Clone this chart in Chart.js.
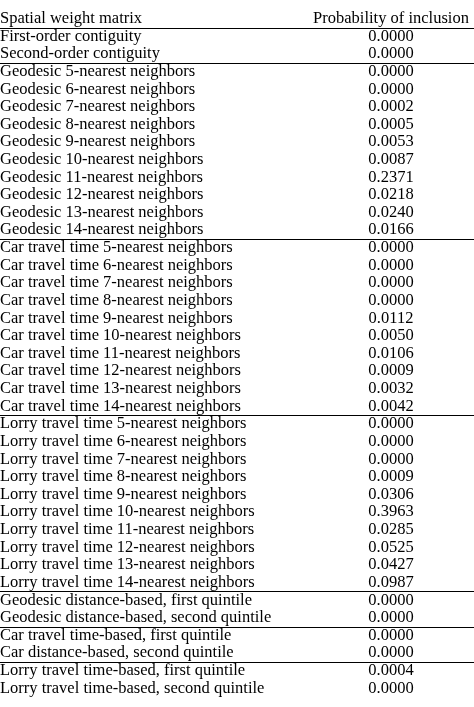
<!DOCTYPE html>
<html><head><meta charset="utf-8">
<script src="https://cdn.jsdelivr.net/npm/chart.js@4/dist/chart.umd.min.js"></script>
<style>html,body{margin:0;padding:0;background:#fff}#w{width:474px;height:707px}</style>
</head><body><div id="w"><canvas id="c"></canvas></div>
<script>
const headerLeft = "Spatial weight matrix";
const headerRight = "Probability of inclusion";
const matrices = [
"First-order contiguity","Second-order contiguity",
"Geodesic 5-nearest neighbors","Geodesic 6-nearest neighbors","Geodesic 7-nearest neighbors","Geodesic 8-nearest neighbors","Geodesic 9-nearest neighbors","Geodesic 10-nearest neighbors","Geodesic 11-nearest neighbors","Geodesic 12-nearest neighbors","Geodesic 13-nearest neighbors","Geodesic 14-nearest neighbors",
"Car travel time 5-nearest neighbors","Car travel time 6-nearest neighbors","Car travel time 7-nearest neighbors","Car travel time 8-nearest neighbors","Car travel time 9-nearest neighbors","Car travel time 10-nearest neighbors","Car travel time 11-nearest neighbors","Car travel time 12-nearest neighbors","Car travel time 13-nearest neighbors","Car travel time 14-nearest neighbors",
"Lorry travel time 5-nearest neighbors","Lorry travel time 6-nearest neighbors","Lorry travel time 7-nearest neighbors","Lorry travel time 8-nearest neighbors","Lorry travel time 9-nearest neighbors","Lorry travel time 10-nearest neighbors","Lorry travel time 11-nearest neighbors","Lorry travel time 12-nearest neighbors","Lorry travel time 13-nearest neighbors","Lorry travel time 14-nearest neighbors",
"Geodesic distance-based, first quintile","Geodesic distance-based, second quintile",
"Car travel time-based, first quintile","Car distance-based, second quintile",
"Lorry travel time-based, first quintile","Lorry travel time-based, second quintile"];
const probabilities = [0.0000,0.0000,
0.0000,0.0000,0.0002,0.0005,0.0053,0.0087,0.2371,0.0218,0.0240,0.0166,
0.0000,0.0000,0.0000,0.0000,0.0112,0.0050,0.0106,0.0009,0.0032,0.0042,
0.0000,0.0000,0.0000,0.0009,0.0306,0.3963,0.0285,0.0525,0.0427,0.0987,
0.0000,0.0000,0.0000,0.0000,0.0004,0.0000];
const groupEnds = [0,2,12,22,32,34,36]; // separators after these row indices (header=0)

const labels = [headerLeft, ...matrices];
const FONT = "'Liberation Serif', serif";
const tablePlugin = {
  id:'table',
  afterDraw(chart){
    const ctx = chart.ctx, y = chart.scales.y, a = chart.chartArea;
    ctx.save();
    ctx.font = "16.5px " + FONT; ctx.fillStyle = "#000";
    ctx.textAlign = "center"; ctx.textBaseline = "middle";
    const cx = a.left + (a.right - a.left) * 0.5 + 4;
    ctx.fillText(headerRight, cx, y.getPixelForValue(0));
    probabilities.forEach((v,i)=>ctx.fillText(v.toFixed(4), cx, y.getPixelForValue(i+1)));
    ctx.strokeStyle = "#000"; ctx.lineWidth = 1;
    groupEnds.forEach(g=>{
      const py = Math.round(y.getPixelForValue(g+0.5)) + 0.5;
      ctx.beginPath(); ctx.moveTo(0, py); ctx.lineTo(chart.width, py); ctx.stroke();
    });
    ctx.restore();
  }
};
new Chart(document.getElementById('c'), {
  type:'bar',
  data:{labels, datasets:[{data:[null, ...probabilities], backgroundColor:'rgba(0,0,0,0)'}]},
  options:{
    indexAxis:'y', responsive:true, maintainAspectRatio:false, animation:false,
    layout:{padding:{top:-10,bottom:-11,left:0,right:0}},
    plugins:{legend:{display:false}, tooltip:{enabled:false}},
    scales:{
      x:{display:false, min:0, max:1},
      y:{grid:{display:false}, border:{display:false},
         afterFit(s){ s.width = 300; },
         ticks:{color:'#000', crossAlign:'far', padding:0, autoSkip:false, font:{family:FONT, size:16.5}}}
    }
  },
  plugins:[tablePlugin]
});
</script></body></html>
